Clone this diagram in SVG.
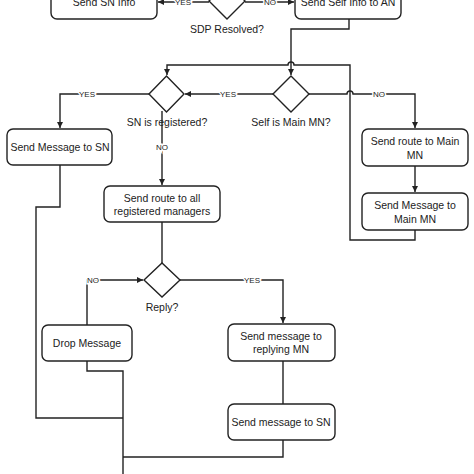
<svg xmlns="http://www.w3.org/2000/svg" width="474" height="474" viewBox="0 0 474 474">
<style>
.box{fill:#fff;stroke:#222;stroke-width:1.4}
.dia{fill:#fff;stroke:#222;stroke-width:1.4}
.t{font-family:"Liberation Sans",Arial,sans-serif;font-size:10.5px;fill:#222;text-anchor:middle}
.lbl{font-family:"Liberation Sans",Arial,sans-serif;font-size:8px;fill:#222;text-anchor:middle;stroke:#fff;stroke-width:3px;paint-order:stroke}
.c{fill:none;stroke:#222;stroke-width:1.4}
.ca{fill:none;stroke:#222;stroke-width:1.4;marker-end:url(#ah)}
</style>
<defs>
<marker id="ah" viewBox="0 0 10 10" refX="10" refY="5" markerWidth="6" markerHeight="6" markerUnits="userSpaceOnUse" orient="auto">
<path d="M0,0 L10,5 L0,10 z" fill="#222"/>
</marker>
</defs>
<rect width="474" height="474" fill="#fff"/>
<g id="connectors">
<path class="ca" d="M209,2 H158"/>
<path class="ca" d="M245,2 H294"/>
<path class="ca" d="M349,19 V29 H291 V75"/>
<path class="ca" d="M415,230 V240 H350 V65 H294 A3,3 0 0 0 288,65 H167 V75"/>
<path class="ca" d="M273,94 H185"/>
<path class="ca" d="M149,94 H60 V128"/>
<path class="ca" d="M308,94 H347 A3,3 0 0 1 353,94 H415 V128"/>
<path class="ca" d="M415,166 V192"/>
<path class="ca" d="M162,111 V185"/>
<path class="c" d="M162,222 V263"/>
<path class="ca" d="M180,280 H283 V323"/>
<path class="ca" d="M87,325 V280 H143"/>
<path class="c" d="M283,361 V404"/>
<path class="c" d="M87,361 V371 H123 V474"/>
<path class="c" d="M60,165 V207 H36 V418 H123"/>
<path class="c" d="M283,440 V457 H123"/>
<text class="lbl" x="183" y="5">YES</text>
<text class="lbl" x="270" y="5">NO</text>
<text class="lbl" x="228" y="97">YES</text>
<text class="lbl" x="87" y="97">YES</text>
<text class="lbl" x="379" y="97">NO</text>
<text class="lbl" x="162" y="150">NO</text>
<text class="lbl" x="93" y="283">NO</text>
<text class="lbl" x="252" y="283">YES</text>
</g>
<g id="send-sn-info">
<rect class="box" x="51" y="-20" width="106" height="39" rx="6"/>
<text class="t" x="104" y="6">Send SN Info</text>
</g>
<g id="sdp-resolved">
<polygon class="dia" points="209,1 227,-17 245,1 227,19"/>
<text class="t" x="227" y="33">SDP Resolved?</text>
</g>
<g id="send-self-info">
<rect class="box" x="295" y="-20" width="106" height="39" rx="6"/>
<text class="t" x="348" y="6">Send Self Info to AN</text>
</g>
<g id="self-main-mn">
<polygon class="dia" points="273,94 291,76 309,94 291,112"/>
<text class="t" x="291" y="126">Self is Main MN?</text>
</g>
<g id="sn-registered">
<polygon class="dia" points="149,94 166.5,76 184,94 166.5,112"/>
<text class="t" x="167" y="126">SN is registered?</text>
</g>
<g id="send-msg-sn-1">
<rect class="box" x="7" y="129" width="105" height="36" rx="6"/>
<text class="t" x="60" y="151">Send Message to SN</text>
</g>
<g id="send-route-main">
<rect class="box" x="362" y="129" width="106" height="37" rx="6"/>
<text class="t" x="415" y="145">Send route to Main</text>
<text class="t" x="415" y="159">MN</text>
</g>
<g id="send-msg-main">
<rect class="box" x="362" y="193" width="106" height="37" rx="6"/>
<text class="t" x="415" y="209">Send Message to</text>
<text class="t" x="415" y="223">Main MN</text>
</g>
<g id="send-route-all">
<rect class="box" x="104" y="186" width="116" height="36" rx="6"/>
<text class="t" x="162" y="202">Send route to all</text>
<text class="t" x="162" y="215">registered managers</text>
</g>
<g id="reply">
<polygon class="dia" points="144,280 162,263 180,280 162,297"/>
<text class="t" x="162" y="311">Reply?</text>
</g>
<g id="drop-message">
<rect class="box" x="42" y="325" width="90" height="36" rx="6"/>
<text class="t" x="87" y="347">Drop Message</text>
</g>
<g id="send-msg-replying">
<rect class="box" x="228" y="324" width="107" height="37" rx="6"/>
<text class="t" x="281" y="340">Send message to</text>
<text class="t" x="281" y="353">replying MN</text>
</g>
<g id="send-msg-sn-2">
<rect class="box" x="228" y="404" width="107" height="36" rx="6"/>
<text class="t" x="281" y="426">Send message to SN</text>
</g>
</svg>
